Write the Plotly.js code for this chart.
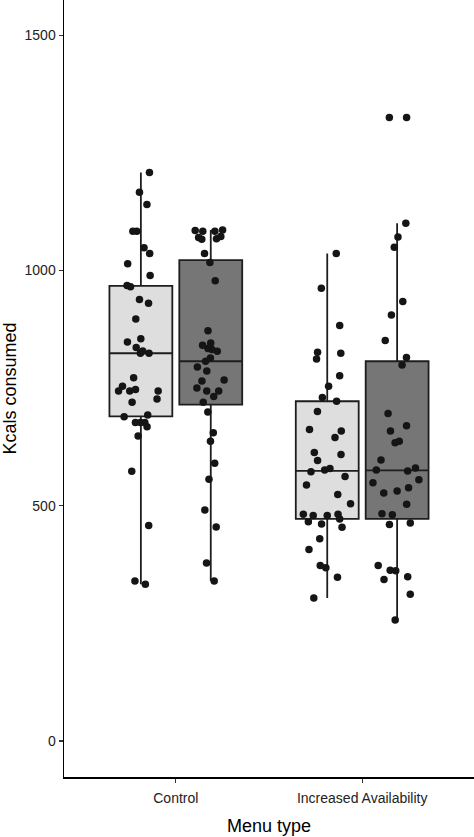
<!DOCTYPE html>
<html>
<head>
<meta charset="utf-8">
<script src="https://cdn.plot.ly/plotly-3.0.1.min.js"></script>
<style>
  html, body { margin: 0; padding: 0; background: #fff; }
  #chart { width: 474px; height: 837px; }
</style>
</head>
<body>
<div id="chart"></div>
<script>
// Menu types on the x axis
const categories = ['Control', 'Increased Availability'];

// Light-grey boxes (first fill group)
const controlLight = [1208, 1166, 1140, 1083, 1083, 1048, 1036, 1014, 989, 968, 965, 938, 930, 897,
    855, 848, 836, 829, 824, 824, 772, 754, 747, 744, 744, 744, 727, 720, 693, 689, 677, 677, 677,
    668, 648, 573, 458, 340, 333];
const increasedLight = [1036, 962, 883, 826, 824, 812, 776, 754, 730, 722, 700, 662, 659, 645,
    613, 609, 596, 579, 576, 572, 562, 544, 524, 504, 482, 482, 479, 479, 472, 466, 461, 454,
    430, 407, 373, 368, 348, 304];

// Dark-grey boxes (second fill group)
const controlDark = [1086, 1085, 1083, 1083, 1072, 1070, 1067, 1066, 1036, 1017, 978, 872, 846,
    841, 834, 832, 828, 814, 807, 795, 786, 767, 765, 750, 744, 744, 732, 720, 699, 655, 637,
    590, 556, 491, 455, 378, 340];
const increasedDark = [1325, 1325, 1100, 1071, 1049, 934, 905, 851, 815, 799, 696, 670, 659, 637,
    634, 597, 580, 576, 574, 555, 549, 538, 531, 527, 503, 483, 481, 463, 460, 373, 363, 362,
    349, 343, 312, 257];

const yTicks = [0, 500, 1000, 1500];

function boxTrace(name, groups, fill) {
    let xs = [];
    let ys = [];
    groups.forEach((vals, i) => {
        vals.forEach(v => {
            xs.push(categories[i]);
            ys.push(v);
        });
    });
    return {
        type: 'box',
        name: name,
        x: xs,
        y: ys,
        fillcolor: fill,
        line: { color: '#1e1e1e', width: 1.8 },
        whiskerwidth: 0,
        quartilemethod: 'linear',
        boxpoints: 'all',
        jitter: 0.85,
        pointpos: 0,
        marker: { color: '#151515', size: 7.5, opacity: 1, line: { width: 0 } },
        hoverinfo: 'y'
    };
}

const data = [
    boxTrace('light', [controlLight, increasedLight], '#dedede'),
    boxTrace('dark', [controlDark, increasedDark], '#767676')
];

const layout = {
    width: 474,
    height: 837,
    margin: { l: 64, r: 0, t: 0, b: 60 },
    paper_bgcolor: '#ffffff',
    plot_bgcolor: '#ffffff',
    font: { family: 'Liberation Sans, Arial, sans-serif', color: '#000' },
    showlegend: false,
    boxmode: 'group',
    boxgap: 0.25,
    boxgroupgap: 0.1,
    xaxis: {
        type: 'category',
        range: [-0.6, 1.6],
        showline: true,
        linecolor: '#000',
        linewidth: 1.5,
        ticks: 'outside',
        ticklen: 4,
        tickwidth: 1.2,
        tickcolor: '#333',
        ticklabelstandoff: 4,
        showgrid: false,
        zeroline: false,
        tickfont: { size: 14, color: '#222' },
        title: { text: 'Menu type', font: { size: 18, color: '#000' }, standoff: 14 }
    },
    yaxis: {
        range: [-76.5, 1574.6],
        tickvals: yTicks,
        ticktext: yTicks.map(String),
        showline: true,
        linecolor: '#000',
        linewidth: 1.5,
        ticks: 'outside',
        ticklen: 4,
        tickwidth: 1.2,
        tickcolor: '#333',
        showgrid: false,
        zeroline: false,
        tickfont: { size: 14, color: '#222' },
        title: { text: 'Kcals consumed', font: { size: 18, color: '#000' }, standoff: 4 }
    }
};

Plotly.newPlot('chart', data, layout, { displayModeBar: false, staticPlot: true });
</script>
</body>
</html>
